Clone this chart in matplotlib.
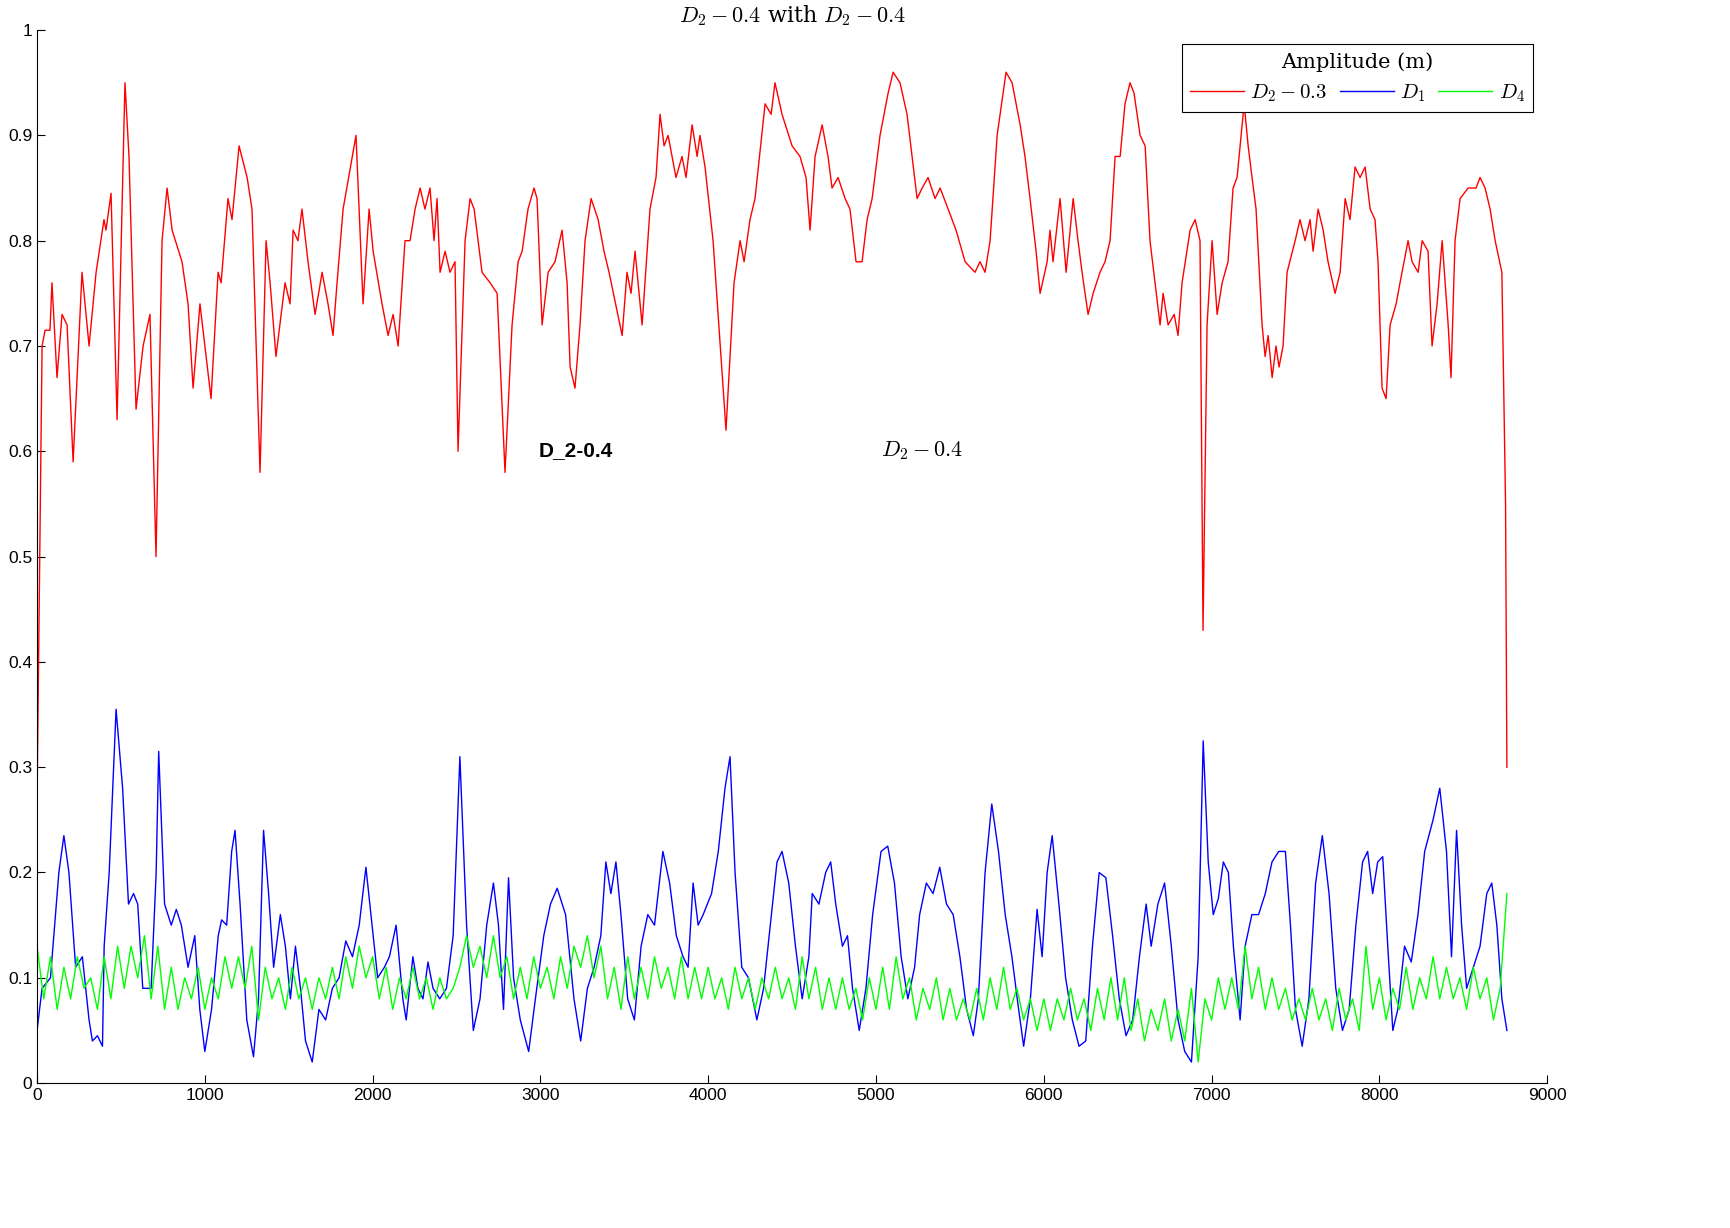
import numpy as np
import matplotlib
matplotlib.use("Agg")
import matplotlib.pyplot as plt

plt.rcParams['mathtext.fontset'] = 'cm'
plt.rcParams['font.family'] = ['Liberation Sans', 'DejaVu Sans']

red_x = [0,30,48,77,89,119,149,179,215,268,310,352,399,411,441,477,524,548,590,632,673,709,745,775,805,864,900,930,971,1037,
1079,1097,1138,1162,1204,1252,1281,1329,1365,1389,1424,1478,1508,1526,1555,1579,1615,1657,1699,1734,1764,1788,1824,1901,1943,1979,2003,2056,2092,2122,
2152,2193,2223,2253,2283,2312,2342,2366,2384,2402,2432,2461,2491,2509,2551,2581,2605,2652,2700,2742,2789,2831,2867,2891,2926,2962,2980,3010,3046,3087,
3129,3159,3177,3206,3236,3266,3302,3344,3379,3409,3487,3516,3540,3564,3594,3606,3653,3689,3713,3737,3761,3808,3844,3868,3904,3934,3951,3981,4029,4106,
4154,4190,4214,4249,4279,4339,4375,4398,4440,4500,4547,4583,4607,4637,4679,4714,4738,4774,4816,4845,4881,4917,4947,4977,5024,5072,5102,5143,5185,5215,
5245,5275,5310,5352,5382,5430,5477,5531,5590,5620,5650,5680,5722,5775,5811,5859,5888,5918,5954,5978,6020,6037,6055,6097,6133,6175,6204,6228,6264,6294,
6335,6365,6395,6425,6455,6484,6514,6538,6574,6604,6633,6663,6693,6711,6741,6777,6800,6824,6872,6902,6931,6949,6973,7003,7033,7063,7098,7128,7152,7170,
7194,7218,7241,7265,7301,7319,7337,7361,7384,7402,7426,7450,7498,7527,7557,7587,7605,7635,7665,7694,7736,7766,7796,7825,7855,7885,7915,7945,7974,7992,
8016,8040,8064,8100,8123,8147,8171,8195,8231,8255,8290,8314,8344,8374,8410,8427,8451,8481,8529,8576,8600,8630,8660,8690,8730,8752,8760]
red_y = [0.27,0.70,0.715,0.715,0.76,0.67,0.73,0.72,0.59,0.77,0.70,0.77,0.82,0.81,0.845,0.63,0.95,0.88,0.64,0.70,0.73,0.50,0.80,0.85,0.81,0.78,0.74,0.66,0.74,0.65,
0.77,0.76,0.84,0.82,0.89,0.86,0.83,0.58,0.80,0.76,0.69,0.76,0.74,0.81,0.80,0.83,0.78,0.73,0.77,0.74,0.71,0.76,0.83,0.90,0.74,0.83,0.79,0.74,0.71,0.73,
0.70,0.80,0.80,0.83,0.85,0.83,0.85,0.80,0.84,0.77,0.79,0.77,0.78,0.60,0.80,0.84,0.83,0.77,0.76,0.75,0.58,0.72,0.78,0.79,0.83,0.85,0.84,0.72,0.77,0.78,
0.81,0.76,0.68,0.66,0.72,0.80,0.84,0.82,0.79,0.77,0.71,0.77,0.75,0.79,0.74,0.72,0.83,0.86,0.92,0.89,0.90,0.86,0.88,0.86,0.91,0.88,0.90,0.87,0.80,0.62,
0.76,0.80,0.78,0.82,0.84,0.93,0.92,0.95,0.92,0.89,0.88,0.86,0.81,0.88,0.91,0.88,0.85,0.86,0.84,0.83,0.78,0.78,0.82,0.84,0.90,0.94,0.96,0.95,0.92,0.88,
0.84,0.85,0.86,0.84,0.85,0.83,0.81,0.78,0.77,0.78,0.77,0.80,0.90,0.96,0.95,0.91,0.88,0.84,0.79,0.75,0.78,0.81,0.78,0.84,0.77,0.84,0.80,0.77,0.73,0.75,
0.77,0.78,0.80,0.88,0.88,0.93,0.95,0.94,0.90,0.89,0.80,0.76,0.72,0.75,0.72,0.73,0.71,0.76,0.81,0.82,0.80,0.43,0.72,0.80,0.73,0.76,0.78,0.85,0.86,0.89,
0.93,0.89,0.86,0.83,0.72,0.69,0.71,0.67,0.70,0.68,0.70,0.77,0.80,0.82,0.80,0.82,0.79,0.83,0.81,0.78,0.75,0.77,0.84,0.82,0.87,0.86,0.87,0.83,0.82,0.78,
0.66,0.65,0.72,0.74,0.76,0.78,0.80,0.78,0.77,0.80,0.79,0.70,0.74,0.80,0.72,0.67,0.80,0.84,0.85,0.85,0.86,0.85,0.83,0.80,0.77,0.55,0.30]

blue_x = [0,30,80,130,160,190,230,270,310,330,360,390,400,430,471,510,545,575,600,630,680,710,725,760,800,830,860,900,940,970,
1000,1040,1080,1100,1130,1160,1180,1210,1250,1290,1320,1350,1380,1410,1450,1480,1510,1540,1570,1600,1640,1680,1720,1760,1800,1840,1880,1920,1960,1990,
2030,2070,2100,2140,2180,2200,2240,2270,2300,2330,2360,2400,2440,2480,2520,2560,2600,2640,2680,2720,2750,2780,2810,2840,2880,2930,2970,3020,3060,3100,
3150,3200,3240,3280,3320,3360,3390,3420,3450,3480,3520,3560,3600,3640,3680,3730,3770,3810,3850,3880,3910,3940,3970,4020,4060,4100,4130,4160,4200,4240,
4290,4330,4370,4410,4440,4480,4520,4560,4600,4620,4660,4700,4730,4760,4800,4830,4860,4900,4940,4980,5030,5070,5110,5150,5190,5230,5260,5300,5340,5380,
5420,5460,5500,5540,5580,5610,5650,5690,5730,5770,5810,5850,5880,5920,5960,5990,6020,6050,6090,6130,6170,6210,6250,6290,6330,6370,6410,6450,6490,6530,
6570,6610,6640,6680,6720,6760,6800,6840,6880,6920,6950,6980,7010,7040,7070,7100,7130,7170,7200,7240,7280,7320,7360,7400,7440,7470,7500,7540,7580,7620,
7660,7700,7740,7780,7820,7860,7900,7930,7960,7990,8020,8050,8080,8110,8150,8190,8230,8270,8320,8360,8400,8430,8460,8490,8520,8560,8600,8640,8670,8700,
8730,8760]
blue_y = [0.05,0.09,0.10,0.20,0.235,0.20,0.11,0.12,0.06,0.04,0.045,0.035,0.13,0.20,0.355,0.28,0.17,0.18,0.17,0.09,0.09,0.20,0.315,0.17,0.15,0.165,0.15,0.11,0.14,0.07,
0.03,0.07,0.14,0.155,0.15,0.22,0.24,0.17,0.06,0.025,0.08,0.24,0.18,0.11,0.16,0.13,0.08,0.13,0.09,0.04,0.02,0.07,0.06,0.09,0.10,0.135,0.12,0.15,0.205,0.16,
0.10,0.11,0.12,0.15,0.08,0.06,0.12,0.09,0.08,0.115,0.09,0.08,0.09,0.14,0.31,0.15,0.05,0.08,0.15,0.19,0.15,0.07,0.195,0.10,0.06,0.03,0.08,0.14,0.17,0.185,
0.16,0.08,0.04,0.09,0.11,0.14,0.21,0.18,0.21,0.16,0.08,0.06,0.13,0.16,0.15,0.22,0.19,0.14,0.12,0.11,0.19,0.15,0.16,0.18,0.22,0.28,0.31,0.20,0.11,0.10,
0.06,0.09,0.15,0.21,0.22,0.19,0.13,0.08,0.12,0.18,0.17,0.20,0.21,0.17,0.13,0.14,0.09,0.05,0.09,0.16,0.22,0.225,0.19,0.12,0.08,0.11,0.16,0.19,0.18,0.205,
0.17,0.16,0.12,0.07,0.045,0.08,0.20,0.265,0.22,0.16,0.12,0.07,0.035,0.08,0.165,0.12,0.20,0.235,0.17,0.10,0.06,0.035,0.04,0.13,0.20,0.195,0.14,0.08,0.045,0.06,
0.12,0.17,0.13,0.17,0.19,0.13,0.06,0.03,0.02,0.12,0.325,0.21,0.16,0.175,0.21,0.20,0.13,0.06,0.13,0.16,0.16,0.18,0.21,0.22,0.22,0.15,0.07,0.035,0.08,0.19,
0.235,0.18,0.09,0.05,0.07,0.15,0.21,0.22,0.18,0.21,0.215,0.13,0.05,0.07,0.13,0.115,0.16,0.22,0.25,0.28,0.22,0.12,0.24,0.15,0.09,0.11,0.13,0.18,0.19,0.15,
0.08,0.05]

green_x = list(range(0, 8761, 40))
green_y = [0.13,0.08,0.12,0.07,0.11,0.08,0.12,0.09,0.10,0.07,
0.12,0.08,0.13,0.09,0.13,0.10,0.14,0.08,0.13,0.07,
0.11,0.07,0.10,0.08,0.11,0.07,0.10,0.08,0.12,0.09,
0.12,0.09,0.13,0.06,0.11,0.08,0.10,0.07,0.11,0.08,
0.10,0.07,0.10,0.08,0.11,0.08,0.12,0.09,0.13,0.10,
0.12,0.08,0.11,0.07,0.10,0.08,0.11,0.08,0.10,0.07,
0.10,0.08,0.09,0.11,0.14,0.11,0.13,0.10,0.14,0.10,
0.12,0.08,0.11,0.08,0.12,0.09,0.11,0.08,0.12,0.09,
0.13,0.11,0.14,0.10,0.13,0.08,0.11,0.07,0.12,0.08,
0.11,0.08,0.12,0.09,0.11,0.08,0.12,0.08,0.11,0.08,
0.11,0.08,0.10,0.07,0.11,0.08,0.10,0.07,0.10,0.08,
0.11,0.08,0.10,0.07,0.12,0.08,0.11,0.07,0.10,0.07,
0.10,0.07,0.09,0.06,0.10,0.07,0.11,0.07,0.12,0.08,
0.10,0.06,0.09,0.07,0.10,0.06,0.09,0.06,0.08,0.06,
0.09,0.06,0.10,0.07,0.11,0.07,0.09,0.06,0.08,0.05,
0.08,0.05,0.08,0.06,0.09,0.06,0.08,0.05,0.09,0.06,
0.10,0.06,0.10,0.05,0.08,0.04,0.07,0.05,0.08,0.04,
0.07,0.04,0.09,0.02,0.08,0.06,0.10,0.07,0.10,0.07,
0.13,0.08,0.11,0.07,0.10,0.07,0.09,0.06,0.08,0.06,
0.09,0.06,0.08,0.05,0.09,0.06,0.08,0.05,0.13,0.07,
0.10,0.06,0.09,0.07,0.11,0.07,0.10,0.08,0.12,0.08,
0.11,0.08,0.10,0.07,0.11,0.08,0.10,0.06,0.09,0.18]

labels = [r'$D_2-0.3$', r'$D_1$', r'$D_4$']
xticks = list(range(0, 9001, 1000))
yticks = [0, 0.1, 0.2, 0.3, 0.4, 0.5, 0.6, 0.7, 0.8, 0.9, 1]
yticklabels = ['0', '0.1', '0.2', '0.3', '0.4', '0.5', '0.6', '0.7', '0.8', '0.9', '1']

fig = plt.figure(figsize=(17.31, 12.28), dpi=100)
ax = fig.add_axes([0.0214, 0.118, 0.8724, 0.8575])
ax.plot(red_x, red_y, color='#ff0000', lw=1, label=labels[0])
ax.plot(blue_x, blue_y, color='#0000ff', lw=1, label=labels[1])
ax.plot(green_x, green_y, color='#00ff00', lw=1, label=labels[2])
ax.set_xlim(0, 9000)
ax.set_ylim(0, 1)
ax.set_xticks(xticks)
ax.set_xticklabels([str(t) for t in xticks])
ax.set_yticks(yticks)
ax.set_yticklabels(yticklabels)
ax.tick_params(direction='in', labelsize=12.5, length=6)
ax.spines['top'].set_visible(False)
ax.spines['right'].set_visible(False)
ax.set_title(r'$D_2-0.4$ with $D_2-0.4$', fontsize=16, family='DejaVu Serif', pad=6)
ax.text(2990, 0.595, 'D_2-0.4', fontsize=15, fontweight='bold')
ax.text(5030, 0.595, r'$D_2-0.4$', fontsize=16)
leg = ax.legend(loc='upper right', bbox_to_anchor=(0.9907, 0.9867), ncol=3,
                title='Amplitude (m)', fontsize=15, title_fontsize=15,
                fancybox=False, edgecolor='black', framealpha=1,
                handlelength=2.6, columnspacing=0.6, handletextpad=0.3, borderaxespad=0)
leg.get_frame().set_linewidth(0.8)
leg.get_title().set_family('DejaVu Serif')
fig.savefig('out.png', dpi=100)
